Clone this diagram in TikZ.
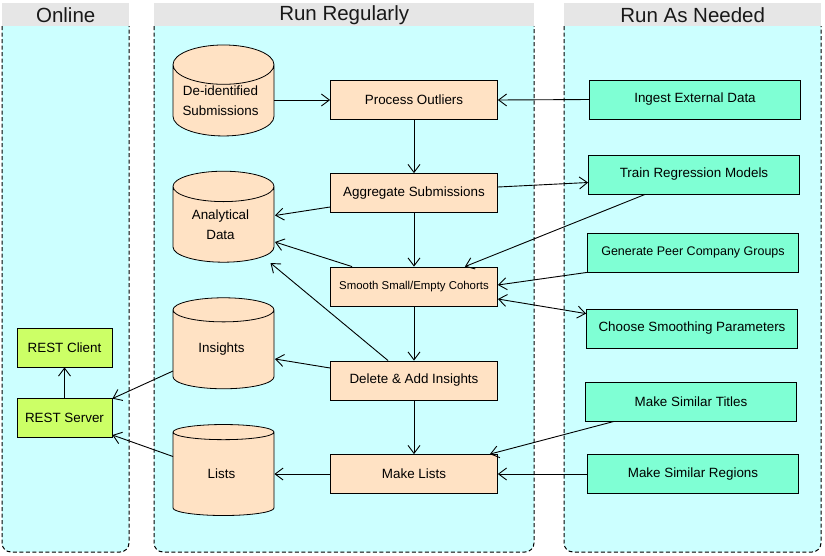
\documentclass[tikz,border=0pt]{standalone}
\usepackage{fontspec}
\setmainfont{Liberation Sans}
\usetikzlibrary{arrows.meta, positioning, shapes.geometric, calc}
\definecolor{lanebg}{RGB}{204,255,255}
\definecolor{hdrgray}{RGB}{230,230,230}
\definecolor{peach}{RGB}{255,226,196}
\definecolor{aqua}{RGB}{127,255,212}
\definecolor{lime}{RGB}{204,255,102}
\tikzset{
  lane/.style ={fill=lanebg, draw=black, dash pattern=on 4pt off 2.5pt, line width=1pt, rounded corners=9pt},
  hdr/.style  ={rectangle, fill=hdrgray, inner sep=0pt, minimum height=23pt, anchor=north west, font=\fontsize{20.5}{22}\selectfont, text=black!90},
  proc/.style ={rectangle, draw, fill=peach, line width=0.8pt, minimum width=167pt, minimum height=39pt, inner sep=2pt, font=\fontsize{13.4}{16}\selectfont},
  task/.style ={rectangle, draw, fill=aqua, line width=0.8pt, minimum width=211pt, minimum height=39pt, inner sep=2pt, font=\fontsize{13.4}{16}\selectfont},
  rest/.style ={rectangle, draw, fill=lime, line width=0.8pt, minimum width=95pt, minimum height=39pt, inner sep=2pt, font=\fontsize{13.4}{16}\selectfont},
  db/.style   ={cylinder, shape border rotate=90, aspect=0.48, draw, fill=peach, line width=0.8pt, minimum width=101pt, minimum height=91pt, inner sep=0pt, align=center, font=\fontsize{13.4}{20}\selectfont},
  small/.style={font=\fontsize{11.4}{14}\selectfont},
  fl/.style   ={-{Straight Barb[length=8pt,width=12pt]}, line width=0.9pt},
  fl2/.style  ={{Straight Barb[length=8pt,width=12pt]}-{Straight Barb[length=8pt,width=12pt]}, line width=0.9pt},
}
\begin{document}
\begin{tikzpicture}[x=1pt, y=-1pt]
  \useasboundingbox (0,0) rectangle (825,555);
  % swimlanes
  \foreach \xa/\xb/\ttl/\nm in {2/129/Online/online, 154/534/Run Regularly/regular, 564/821/Run As Needed/asneeded} {
    \filldraw[lane] (\xa,26) -- (\xa,552) -- (\xb,552) -- (\xb,26);
    \node[hdr, minimum width={(\xb-\xa)*1pt}] (\nm) at (\xa,3) {\ttl};
  }
  % data stores
  \node[db] (deid)     at (223.5,100.5) {De-identified\hspace*{6pt}\\Submissions\hspace*{6pt}};
  \node[db] (anadata)  at (223.5,224.5) {Analytical\hspace*{6pt}\\Data\hspace*{6pt}};
  \node[db] (insights) at (223.5,349.5) {Insights\hspace*{4pt}};
  \node[db] (lists)    at (223.5,474)   {Lists\hspace*{4pt}};
  % regular jobs
  \node[proc] (procout) at (414,100)   {Process Outliers};
  \node[proc] (aggsub)  at (414,193)   {Aggregate Submissions};
  \node[proc, small] (smooth) at (414,286.5) {Smooth Small/Empty Cohorts};
  \node[proc] (delins)  at (414,380.5) {Delete \& Add Insights};
  \node[proc] (mklists) at (414,474)   {Make Lists};
  % on demand jobs
  \node[task] (ingest)     at (695,99.5)  {Ingest External Data};
  \node[task] (trainreg)   at (694,174.5) {Train Regression Models};
  \node[task, font=\fontsize{12.5}{15}\selectfont] (genpeer) at (693,252.5) {Generate Peer Company Groups};
  \node[task] (choose)     at (692,328.5) {Choose Smoothing Parameters};
  \node[task] (simtitles)  at (691,401.5) {Make Similar Titles};
  \node[task] (simregions) at (693,474)   {Make Similar Regions};
  % online
  \node[rest] (restclient) at (64.5,347.5) {REST Client};
  \node[rest] (restserver) at (64.5,418)   {REST Server};
  % flows
  \draw[fl] (deid.east |- procout.west) -- (procout.west);
  \draw[fl] (ingest.west) -- (procout.east);
  \draw[fl] (procout) -- (aggsub);
  \draw[fl] ($(aggsub.east)+(0,-6)$) -- ($(trainreg.west)+(0,8)$);
  \draw[fl] ($(aggsub.west)+(0,14)$) -- ($(anadata.center)+(51.5,-9)$);
  \draw[fl] (aggsub) -- (smooth);
  \draw[fl] ($(smooth.north west)+(22,0)$) -- ($(anadata.center)+(51.5,17.5)$);
  \draw[fl] ($(trainreg.south west)+(57,0)$) -- ($(smooth.north east)+(-33,0)$);
  \draw[fl] (genpeer.south west) -- ($(smooth.east)+(0,-1.5)$);
  \draw[fl2] ($(smooth.east)+(0,12.5)$) -- ($(choose.north west)+(0,5)$);
  \draw[fl] (smooth) -- (delins);
  \draw[fl] ($(delins.north west)+(58,0)$) -- ($(anadata.center)+(47,38.5)$);
  \draw[fl] ($(delins.west)+(0,-12.5)$) -- ($(insights.center)+(51.5,9.5)$);
  \draw[fl] (delins) -- (mklists);
  \draw[fl] ($(simtitles.south west)+(29,0)$) -- ($(mklists.north east)+(-8,0)$);
  \draw[fl] (simregions.west) -- (mklists.east);
  \draw[fl] (mklists.west) -- (lists.east |- mklists.west);
  \draw[fl] ($(insights.center)+(-50.5,21.5)$) -- ($(restserver.north east)+(0,0.5)$);
  \draw[fl] ($(lists.center)+(-50.5,-17.5)$) -- ($(restserver.east)+(0,17)$);
  \draw[fl] (restserver) -- (restclient);
\end{tikzpicture}
\end{document}
